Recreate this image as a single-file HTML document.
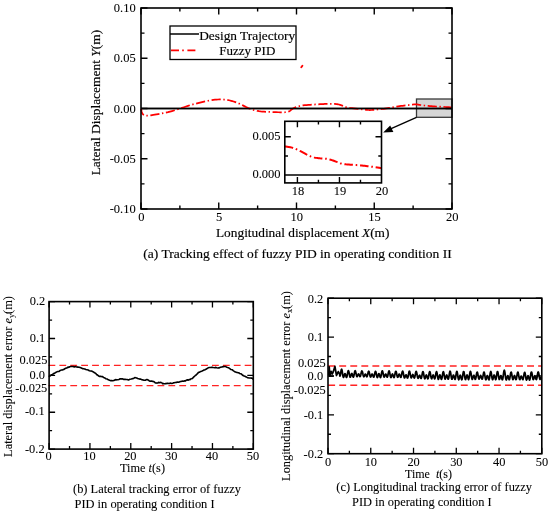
<!DOCTYPE html><html><head><meta charset="utf-8"><style>html,body{margin:0;padding:0;background:#fff;width:550px;height:512px;overflow:hidden}svg{display:block}</style></head><body><svg width="550" height="512" viewBox="0 0 550 512" font-family="'Liberation Serif','Times New Roman',serif" fill="#000"><style>text{stroke:#000;stroke-width:0.16px} text.t{stroke-width:0.06px} text.b{stroke-width:0.08px}</style>
<rect width="550" height="512" fill="#fff"/>
<rect x="416.5" y="99" width="35.5" height="18.3" fill="#d6d6d6" stroke="#3a3a3a" stroke-width="1.3"/>
<line x1="141" y1="108.5" x2="452" y2="108.5" stroke="#000" stroke-width="1.5"/>
<polyline points="141.2,108.8 141.3,109.44 141.42,110.36 141.59,111.4 141.81,112.4 142.1,113.2 142.47,113.78 142.9,114.25 143.39,114.63 143.93,114.94 144.5,115.2 145.12,115.4 145.8,115.52 146.51,115.58 147.25,115.6 148,115.6 148.7,115.57 149.37,115.5 150.09,115.4 150.94,115.27 152,115.1 153.31,114.91 154.82,114.68 156.46,114.42 158.21,114.13 160,113.8 161.87,113.43 163.86,113.02 165.9,112.58 167.97,112.11 170,111.6 172,111.06 174,110.48 176,109.87 178,109.24 180,108.6 182,107.93 184,107.23 186,106.52 188,105.84 190,105.2 192,104.62 194,104.08 196,103.57 198,103.08 200,102.6 202.03,102.11 204.1,101.63 206.14,101.17 208.13,100.75 210,100.4 211.74,100.12 213.39,99.9 214.97,99.73 216.5,99.6 218,99.5 219.5,99.44 220.97,99.43 222.39,99.45 223.74,99.51 225,99.6 226.11,99.71 227.1,99.86 228.02,100.04 228.97,100.25 230,100.5 231.14,100.79 232.33,101.11 233.55,101.47 234.78,101.87 236,102.3 237.18,102.77 238.35,103.28 239.53,103.83 240.74,104.4 242,105 243.34,105.65 244.73,106.36 246.15,107.09 247.58,107.78 249,108.4 250.38,108.95 251.75,109.46 253.13,109.93 254.54,110.34 256,110.7 257.5,110.99 259.03,111.22 260.61,111.41 262.26,111.56 264,111.7 265.87,111.82 267.86,111.91 269.9,111.98 271.97,112.04 274,112.1 276.08,112.17 278.24,112.25 280.36,112.31 282.32,112.33 284,112.3 285.35,112.21 286.46,112.08 287.38,111.91 288.21,111.68 289,111.4 289.71,111.04 290.3,110.61 290.82,110.14 291.37,109.65 292,109.2 292.69,108.77 293.38,108.33 294.14,107.91 294.99,107.49 296,107.1 297.18,106.72 298.49,106.34 299.91,105.99 301.42,105.67 303,105.4 304.69,105.19 306.5,105.04 308.38,104.92 310.23,104.81 312,104.7 313.66,104.59 315.27,104.48 316.85,104.38 318.42,104.29 320,104.2 321.62,104.11 323.25,104.01 324.87,103.92 326.46,103.85 328,103.8 329.5,103.78 330.97,103.77 332.39,103.78 333.74,103.82 335,103.9 336.11,104.01 337.1,104.14 338.02,104.3 338.97,104.52 340,104.8 341.14,105.19 342.33,105.68 343.55,106.2 344.78,106.69 346,107.1 347.14,107.4 348.22,107.63 349.33,107.82 350.56,108 352,108.2 353.76,108.43 355.77,108.66 357.88,108.89 359.94,109.11 361.8,109.3 363.42,109.48 364.9,109.66 366.3,109.82 367.68,109.94 369.1,110 370.56,110 372.02,109.94 373.49,109.84 374.95,109.72 376.4,109.6 377.84,109.47 379.28,109.32 380.72,109.16 382.16,108.99 383.6,108.8 385.05,108.6 386.51,108.39 387.98,108.17 389.44,107.94 390.9,107.7 392.36,107.45 393.82,107.18 395.28,106.91 396.74,106.64 398.2,106.4 399.66,106.18 401.12,105.97 402.59,105.77 404.05,105.58 405.5,105.4 407.01,105.22 408.57,105.04 410.11,104.87 411.51,104.72 412.7,104.6 413.57,104.49 414.18,104.39 414.69,104.31 415.24,104.28 416,104.3 416.99,104.41 418.1,104.58 419.3,104.8 420.55,105.01 421.8,105.2 423.05,105.35 424.33,105.5 425.65,105.64 427,105.77 428.4,105.9 429.86,106.03 431.37,106.16 432.91,106.28 434.46,106.39 436,106.5 437.52,106.59 439.04,106.67 440.55,106.74 442.07,106.82 443.6,106.9 445.26,107 447.04,107.12 448.77,107.23 450.25,107.33 451.3,107.4" fill="none" stroke="#f00" stroke-width="1.75" stroke-dasharray="9.2 2.6 1.4 2.6" stroke-dashoffset="2.2" stroke-linejoin="round"/>
<line x1="301.3" y1="67.2" x2="302.4" y2="65.7" stroke="#f00" stroke-width="1.9" stroke-linecap="round"/>
<line x1="141" y1="108.5" x2="452" y2="108.5" stroke="#000" stroke-width="1.5"/>
<line x1="416.5" y1="117.3" x2="390" y2="129.2" stroke="#000" stroke-width="1.3"/>
<polygon points="383.2,132.6 390.2,125.6 393.4,131.9" fill="#000"/>
<path d="M141,209v-6.5M141,8v6.5M179.88,209v-3.5M179.88,8v3.5M218.75,209v-6.5M218.75,8v6.5M257.62,209v-3.5M257.62,8v3.5M296.5,209v-6.5M296.5,8v6.5M335.38,209v-3.5M335.38,8v3.5M374.25,209v-6.5M374.25,8v6.5M413.12,209v-3.5M413.12,8v3.5M452,209v-6.5M452,8v6.5M141,8h6.5M452,8h-6.5M141,33.12h3.5M452,33.12h-3.5M141,58.25h6.5M452,58.25h-6.5M141,83.38h3.5M452,83.38h-3.5M141,108.5h6.5M452,108.5h-6.5M141,133.62h3.5M452,133.62h-3.5M141,158.75h6.5M452,158.75h-6.5M141,183.88h3.5M452,183.88h-3.5M141,209h6.5M452,209h-6.5" stroke="#000" stroke-width="1.4" fill="none"/>
<rect x="141" y="8" width="311" height="201" fill="none" stroke="#000" stroke-width="1.6"/>
<text x="135.7" y="12.1" font-size="12.5" text-anchor="end" class="t" >0.10</text>
<text x="135.7" y="62.35" font-size="12.5" text-anchor="end" class="t" >0.05</text>
<text x="135.7" y="112.6" font-size="12.5" text-anchor="end" class="t" >0.00</text>
<text x="135.7" y="162.85" font-size="12.5" text-anchor="end" class="t" >-0.05</text>
<text x="135.7" y="213.1" font-size="12.5" text-anchor="end" class="t" >-0.10</text>
<text x="141.3" y="221.2" font-size="12.5" text-anchor="middle" class="t" >0</text>
<text x="219.05" y="221.2" font-size="12.5" text-anchor="middle" class="t" >5</text>
<text x="296.8" y="221.2" font-size="12.5" text-anchor="middle" class="t" >10</text>
<text x="374.55" y="221.2" font-size="12.5" text-anchor="middle" class="t" >15</text>
<text x="452.3" y="221.2" font-size="12.5" text-anchor="middle" class="t" >20</text>
<text x="302.7" y="236.9" font-size="13.35" text-anchor="middle" >Longitudinal displacement <tspan font-style="italic">X</tspan>(m)</text>
<text transform="translate(100.1,102.6) rotate(-90)" font-size="13.45" text-anchor="middle">Lateral Displacement <tspan font-style="italic">Y</tspan>(m)</text>
<text x="297.5" y="257.5" font-size="13.5" text-anchor="middle" >(a) Tracking effect of fuzzy PID in operating condition II</text>
<rect x="170" y="26" width="126" height="33.5" fill="#fff" stroke="#000" stroke-width="1.3"/>
<line x1="170" y1="34" x2="199" y2="34" stroke="#000" stroke-width="1.5"/>
<line x1="171" y1="50.4" x2="196" y2="50.4" stroke="#f00" stroke-width="1.6" stroke-dasharray="8 3.2 1.6 3.6"/>
<text x="199.2" y="39.6" font-size="13.35" text-anchor="start" >Design Trajectory</text>
<text x="219.3" y="54.7" font-size="13.0" text-anchor="start" >Fuzzy PID</text>
<rect x="284.8" y="121.3" width="96.7" height="61.6" fill="#fff"/>
<line x1="284.8" y1="175.1" x2="381.5" y2="175.1" stroke="#000" stroke-width="1.5"/>
<polyline points="284.8,146.4 285.78,146.53 287.16,146.71 288.77,146.93 290.44,147.23 292,147.6 293.43,148.06 294.85,148.59 296.27,149.2 297.75,149.87 299.3,150.6 300.99,151.46 302.81,152.44 304.65,153.46 306.41,154.41 308,155.2 309.37,155.81 310.59,156.32 311.73,156.73 312.84,157.08 314,157.4 315.18,157.67 316.34,157.87 317.51,158.02 318.72,158.16 320,158.3 321.4,158.42 322.9,158.51 324.43,158.6 325.92,158.72 327.3,158.9 328.52,159.14 329.62,159.42 330.69,159.73 331.79,160.09 333,160.5 334.39,161 335.91,161.58 337.45,162.19 338.92,162.75 340.2,163.2 341.21,163.52 342.02,163.74 342.76,163.91 343.57,164.05 344.6,164.2 345.89,164.35 347.35,164.47 348.9,164.59 350.48,164.69 352,164.8 353.48,164.9 354.96,165 356.43,165.09 357.88,165.19 359.3,165.3 360.66,165.42 361.96,165.55 363.26,165.69 364.59,165.84 366,166 367.52,166.18 369.13,166.37 370.77,166.57 372.41,166.78 374,167 375.65,167.25 377.4,167.52 379.06,167.8 380.49,168.03 381.5,168.2" fill="none" stroke="#f00" stroke-width="2" stroke-dasharray="8.5 2.8 1.6 2.8" stroke-linejoin="round"/>
<path d="M297.41,182.9v-6M297.41,121.3v6M318.43,182.9v-3.2M318.43,121.3v3.2M339.46,182.9v-6M339.46,121.3v6M360.48,182.9v-3.2M360.48,121.3v3.2M284.8,155.95h3.2M381.5,155.95h-3.2M284.8,136.7h6M381.5,136.7h-6" stroke="#000" stroke-width="1.4" fill="none"/>
<rect x="284.8" y="121.3" width="96.7" height="61.6" fill="none" stroke="#000" stroke-width="1.6"/>
<text x="280.5" y="140.1" font-size="12.5" text-anchor="end" class="t" >0.005</text>
<text x="280.5" y="178.3" font-size="12.5" text-anchor="end" class="t" >0.000</text>
<text x="298.01" y="195" font-size="12.5" text-anchor="middle" class="t" >18</text>
<text x="340.06" y="195" font-size="12.5" text-anchor="middle" class="t" >19</text>
<text x="382.1" y="195" font-size="12.5" text-anchor="middle" class="t" >20</text>
<line x1="48.5" y1="365.4" x2="253.3" y2="365.4" stroke="#f22" stroke-width="1.4" stroke-dasharray="6.8 4.1"/>
<line x1="48.5" y1="385.6" x2="253.3" y2="385.6" stroke="#f22" stroke-width="1.4" stroke-dasharray="6.8 4.1"/>
<polyline points="49.4,376.28 49.39,376.17 49.37,376.55 49.46,376.1 49.8,376.23 50.47,375.68 51.39,374.87 52.44,374.53 53.5,373.58 54.57,373.27 55.7,372.42 56.86,371.85 58,371.55 59.12,371.35 60.25,370.42 61.38,370.07 62.5,369.89 63.64,369.58 64.8,368.75 65.93,368.08 67,368.03 67.96,367.05 68.84,367.38 69.73,366.79 70.7,366.55 71.83,366.44 73.06,366.53 74.26,366.89 75.3,366.48 76.07,366.82 76.66,366.96 77.24,366.92 78,367.23 79,367.16 80.14,367.49 81.33,367.95 82.5,368.63 83.62,368.77 84.74,369.01 85.87,369.53 87,369.77 88.17,370 89.37,370.69 90.53,370.97 91.6,371.02 92.54,371.61 93.38,371.92 94.19,372.56 95,372.96 95.81,373.35 96.59,374.67 97.41,374.88 98.3,375.74 99.33,376.38 100.45,376.19 101.57,376.63 102.6,376.58 103.46,377.37 104.21,377.82 104.99,378.1 105.9,378.76 107.04,378.92 108.32,379.82 109.61,380.32 110.8,380.66 111.86,380.6 112.87,380.69 113.79,380.51 114.6,379.98 115.21,380.01 115.66,379.5 116.13,379.86 116.8,379.7 117.77,379.76 118.93,379.41 120.13,378.83 121.2,378.82 122.05,379.11 122.79,378.87 123.55,379.41 124.5,379.37 125.71,379.42 127.1,379.44 128.54,379.92 129.9,379.34 131.19,379.06 132.45,378.64 133.66,378.46 134.8,377.61 135.81,377.83 136.73,378.03 137.63,378.5 138.6,378.72 139.66,379.1 140.76,379.14 141.89,379.66 143,379.9 144.14,380.32 145.31,380.28 146.43,379.62 147.4,379.67 148.15,379.96 148.75,380.33 149.32,380.89 150,381.26 150.85,381.17 151.79,381.05 152.73,381.39 153.6,381.51 154.36,381.97 155.06,382.67 155.73,382.89 156.4,383.01 157.1,383.08 157.81,382.97 158.49,382.33 159.1,382.78 159.6,382.61 160.03,382.59 160.44,382.51 160.9,382.32 161.42,382.63 161.96,382.88 162.55,383.7 163.2,383.59 163.95,383.66 164.77,383.69 165.61,383.54 166.4,383.59 167.09,383.39 167.72,383.38 168.37,383.49 169.1,383.42 169.93,383.5 170.84,383.11 171.77,383.53 172.7,383.18 173.62,382.71 174.55,382.65 175.48,382.56 176.4,382.4 177.31,382.02 178.21,382.28 179.1,382.14 180,381.58 180.9,381.49 181.79,381.18 182.69,381.15 183.6,381.19 184.54,380.88 185.51,380.94 186.44,380.13 187.3,379.77 188.05,380.27 188.71,379.91 189.35,379.55 190,379.63 190.67,378.92 191.34,378.83 192.02,378.65 192.7,378.05 193.4,377.41 194.1,376.54 194.8,376.02 195.5,375.27 196.2,375.01 196.91,374.1 197.59,373.57 198.2,372.68 198.67,372.2 199.04,372.33 199.44,372.21 200,371.85 200.75,371.52 201.62,371.25 202.6,370.87 203.7,370.11 204.95,369.75 206.34,368.95 207.79,368.06 209.2,367.57 210.58,367.47 211.97,367.32 213.32,367.57 214.6,367.72 215.74,367.39 216.79,367.83 217.85,367.95 219,367.92 220.35,367.32 221.82,366.93 223.26,366.65 224.5,366.49 225.43,366.49 226.17,366.86 226.87,367.25 227.7,367.54 228.72,367.82 229.82,368.66 230.97,369.52 232.1,369.71 233.2,370.71 234.31,371.46 235.41,371.9 236.5,372.38 237.55,372.59 238.58,372.71 239.64,373.5 240.8,373.68 242.09,374.74 243.48,375.74 244.9,376.22 246.3,376.93 247.75,377.82 249.24,378.04 250.62,377.94 251.7,378.14 252.4,378.32 252.84,378.92 253.1,378.89 253.3,378.45" fill="none" stroke="#000" stroke-width="1.6" stroke-linejoin="round"/>
<path d="M49.1,449.1v-6M49.1,301.6v6M69.52,449.1v-3M69.52,301.6v3M89.94,449.1v-6M89.94,301.6v6M110.36,449.1v-3M110.36,301.6v3M130.78,449.1v-6M130.78,301.6v6M151.2,449.1v-3M151.2,301.6v3M171.62,449.1v-6M171.62,301.6v6M192.04,449.1v-3M192.04,301.6v3M212.46,449.1v-6M212.46,301.6v6M232.88,449.1v-3M232.88,301.6v3M253.3,449.1v-6M253.3,301.6v6M49.1,301.6h6M253.3,301.6h-6M49.1,320.04h3M253.3,320.04h-3M49.1,338.48h6M253.3,338.48h-6M49.1,356.91h3M253.3,356.91h-3M49.1,375.35h6M253.3,375.35h-6M49.1,393.79h3M253.3,393.79h-3M49.1,412.23h6M253.3,412.23h-6M49.1,430.66h3M253.3,430.66h-3M49.1,449.1h6M253.3,449.1h-6" stroke="#000" stroke-width="1.3" fill="none"/>
<rect x="49.1" y="301.6" width="204.2" height="147.5" fill="none" stroke="#000" stroke-width="1.6"/>
<text x="45.2" y="304.6" font-size="12.4" text-anchor="end" class="t" >0.2</text>
<text x="45.3" y="341.8" font-size="12.4" text-anchor="end" class="t" >0.1</text>
<text x="47.4" y="363.5" font-size="12.4" text-anchor="end" class="t" >0.025</text>
<text x="45" y="378.6" font-size="12.4" text-anchor="end" class="t" >0.0</text>
<text x="47.3" y="391.7" font-size="12.4" text-anchor="end" class="t" >-0.025</text>
<text x="44.6" y="415.1" font-size="12.4" text-anchor="end" class="t" >-0.1</text>
<text x="44.6" y="452.9" font-size="12.4" text-anchor="end" class="t" >-0.2</text>
<text x="48.7" y="460.3" font-size="12.4" text-anchor="middle" class="t" >0</text>
<text x="89.54" y="460.3" font-size="12.4" text-anchor="middle" class="t" >10</text>
<text x="130.38" y="460.3" font-size="12.4" text-anchor="middle" class="t" >20</text>
<text x="171.22" y="460.3" font-size="12.4" text-anchor="middle" class="t" >30</text>
<text x="212.06" y="460.3" font-size="12.4" text-anchor="middle" class="t" >40</text>
<text x="252.9" y="460.3" font-size="12.4" text-anchor="middle" class="t" >50</text>
<text x="142.5" y="472.2" font-size="12.3" text-anchor="middle" class="b" >Time <tspan font-style="italic">t</tspan>(s)</text>
<text class="b" transform="translate(12.2,376.5) rotate(-90)" font-size="12.35" text-anchor="middle">Lateral displacement error <tspan font-style="italic">e</tspan><tspan font-size="8.3" dy="1.6">y</tspan><tspan dy="-1.6">(m)</tspan></text>
<text x="73" y="492.6" font-size="12.43" text-anchor="start" class="b" >(b) Lateral tracking error of fuzzy</text>
<text x="74.5" y="508" font-size="12.43" text-anchor="start" class="b" >PID in operating condition I</text>
<line x1="328.2" y1="366" x2="541.8" y2="366" stroke="#f22" stroke-width="1.4" stroke-dasharray="6.9 4.15"/>
<line x1="328.2" y1="385.2" x2="541.8" y2="385.2" stroke="#f22" stroke-width="1.4" stroke-dasharray="6.9 4.15"/>
<polyline points="328.8,375 329.2,366.9 329.9,376 331.1,371.4 332.2,374 333.1,372.2 334.9,366.4 336.5,375.5 338.3,371.6 339.6,374 339.9,376 340.2,375.88 340.5,374.42 340.8,372.54 341.1,370.7 341.4,369.45 341.7,369.25 342,370.2 342.3,371.97 342.6,374.02 342.9,375.83 343.2,376.99 343.5,377.34 343.8,376.91 344.1,375.94 344.4,374.82 344.7,373.95 345,373.64 345.3,374 345.6,374.9 345.9,376.04 346.2,377 346.5,377.43 346.8,377.1 347.1,376.02 347.4,374.43 347.7,372.72 348,371.34 348.3,370.66 348.6,370.87 348.9,371.89 349.2,373.45 349.5,375.12 349.8,376.48 350.1,377.18 350.4,377.1 350.7,376.36 351,375.25 351.3,374.18 351.6,373.5 351.9,373.46 352.2,374.06 352.5,375.1 352.8,376.21 353.1,376.98 353.4,377.1 353.7,376.46 354,375.18 354.3,373.57 354.6,372.05 354.9,371.02 355.2,370.74 355.5,371.26 355.8,372.41 356.1,373.87 356.4,375.27 356.7,376.26 357,376.66 357.3,376.45 357.6,375.8 357.9,374.97 358.2,374.27 358.5,373.95 358.8,374.12 359.1,374.72 359.4,375.53 359.7,376.26 360,376.62 360.3,376.39 360.6,375.57 360.9,374.3 361.2,372.88 361.5,371.67 361.8,370.99 362.1,371.02 362.4,371.76 362.7,373 363,374.44 363.3,375.71 363.6,376.52 363.9,376.72 364.2,376.34 364.5,375.59 364.8,374.78 365.1,374.2 365.4,374.07 365.7,374.43 366,375.16 366.3,375.99 366.6,376.62 366.9,376.77 367.2,376.32 367.5,375.31 367.8,373.96 368.1,372.61 368.4,371.61 368.7,371.23 369,371.59 369.3,372.59 369.6,373.98 369.9,375.39 370.2,376.48 370.5,377 370.8,376.88 371.1,376.23 371.4,375.33 371.7,374.51 372,374.06 372.3,374.14 372.6,374.71 372.9,375.59 373.2,376.48 373.5,377.06 373.8,377.08 374.1,376.44 374.4,375.25 374.7,373.78 375,372.41 375.3,371.51 375.6,371.35 375.9,371.99 376.2,373.28 376.5,374.88 376.8,376.37 377.1,377.34 377.4,377.57 377.7,377.05 378,376 378.3,374.82 378.6,373.91 378.9,373.58 379.2,373.96 379.5,374.9 379.8,376.09 380.1,377.1 380.4,377.58 380.7,377.27 381,376.21 381.3,374.64 381.6,372.94 381.9,371.57 382.2,370.89 382.5,371.05 382.8,372 383.1,373.45 383.4,375.02 383.7,376.3 384,377.01 384.3,377.02 384.6,376.45 384.9,375.54 385.2,374.65 385.5,374.09 385.8,374.06 386.1,374.57 386.4,375.45 386.7,376.38 387,377.02 387.3,377.09 387.6,376.46 387.9,375.23 388.2,373.68 388.5,372.19 388.8,371.17 389.1,370.9 389.4,371.47 389.7,372.74 390,374.38 390.3,375.97 390.6,377.12 390.9,377.57 391.2,377.28 391.5,376.42 391.8,375.34 392.1,374.44 392.4,374.02 392.7,374.24 393,375.02 393.3,376.1 393.6,377.09 393.9,377.62 394.2,377.44 394.5,376.54 394.8,375.09 395.1,373.45 395.4,372.05 395.7,371.27 396,371.29 396.3,372.11 396.6,373.48 396.9,375.04 397.2,376.38 397.5,377.17 397.8,377.28 398.1,376.75 398.4,375.83 398.7,374.86 399,374.18 399.3,374.03 399.6,374.46 399.9,375.33 400.2,376.35 400.5,377.14 400.8,377.41 401.1,376.97 401.4,375.87 401.7,374.35 402,372.79 402.3,371.6 402.6,371.11 402.9,371.48 403.2,372.6 403.5,374.21 403.8,375.89 404.1,377.23 404.4,377.93 404.7,377.88 405,377.23 405.3,376.26 405.6,375.36 405.9,374.86 406.2,374.94 406.5,375.59 406.8,376.57 407.1,377.52 407.4,378.07 407.7,377.94 408,377.07 408.3,375.6 408.6,373.87 408.9,372.32 409.2,371.35 409.5,371.22 409.8,371.95 410.1,373.35 410.4,375.04 410.7,376.59 411,377.62 411.3,377.93 411.6,377.53 411.9,376.63 412.2,375.58 412.5,374.78 412.8,374.49 413.1,374.83 413.4,375.68 413.7,376.74 414,377.64 414.3,378.02 414.6,377.67 414.9,376.61 415.2,375.06 415.5,373.4 415.8,372.06 416.1,371.41 416.4,371.63 416.7,372.67 417,374.25 417.3,375.98 417.6,377.42 417.9,378.25 418.2,378.34 418.5,377.77 418.8,376.83 419.1,375.88 419.4,375.28 419.7,375.25 420,375.8 420.3,376.74 420.6,377.74 420.9,378.42 421.2,378.47 421.5,377.77 421.8,376.41 422.1,374.7 422.4,373.06 422.7,371.92 423,371.59 423.3,372.18 423.6,373.54 423.9,375.31 424.2,377.03 424.5,378.29 424.8,378.79 425.1,378.48 425.4,377.57 425.7,376.42 426,375.44 426.3,374.99 426.6,375.23 426.9,376.07 427.2,377.22 427.5,378.28 427.8,378.84 428.1,378.63 428.4,377.62 428.7,375.99 429,374.15 429.3,372.56 429.6,371.66 429.9,371.67 430.2,372.59 430.5,374.18 430.8,376 431.1,377.59 431.4,378.57 431.7,378.73 432,378.13 432.3,377.07 432.6,375.93 432.9,375.13 433.2,374.95 433.5,375.45 433.8,376.47 434.1,377.65 434.4,378.57 434.7,378.87 435,378.36 435.3,377.08 435.6,375.31 435.9,373.5 436.2,372.15 436.5,371.62 436.8,372.08 437.1,373.42 437.4,375.3 437.7,377.22 438,378.68 438.3,379.34 438.6,379.08 438.9,378.09 439.2,376.74 439.5,375.53 439.8,374.86 440.1,374.97 440.4,375.83 440.7,377.14 441,378.46 441.3,379.31 441.6,379.34 441.9,378.46 442.2,376.82 442.5,374.84 442.8,373.03 443.1,371.87 443.4,371.67 443.7,372.46 444,374.03 444.3,375.93 444.6,377.67 444.9,378.82 445.2,379.12 445.5,378.6 445.8,377.52 446.1,376.29 446.4,375.34 446.7,375 447,375.4 447.3,376.39 447.6,377.64 447.9,378.7 448.2,379.16 448.5,378.77 448.8,377.52 449.1,375.68 449.4,373.69 449.7,372.07 450,371.25 450.3,371.47 450.6,372.68 450.9,374.55 451.2,376.59 451.5,378.28 451.8,379.21 452.1,379.21 452.4,378.4 452.7,377.12 453,375.86 453.3,375.07 453.6,375.02 453.9,375.74 454.2,376.98 454.5,378.31 454.8,379.24 455.1,379.4 455.4,378.62 455.7,377.02 456,374.99 456.3,373.05 456.6,371.72 456.9,371.37 457.2,372.09 457.5,373.71 457.8,375.78 458.1,377.77 458.4,379.19 458.7,379.72 459,379.33 459.3,378.24 459.6,376.89 459.9,375.76 460.2,375.24 460.5,375.51 460.8,376.47 461.1,377.81 461.4,379.05 461.7,379.72 462,379.52 462.3,378.38 462.6,376.54 462.9,374.43 463.2,372.61 463.5,371.55 463.8,371.55 464.1,372.6 464.4,374.41 464.7,376.5 465,378.32 465.3,379.41 465.6,379.55 465.9,378.8 466.2,377.5 466.5,376.13 466.8,375.17 467.1,374.95 467.4,375.55 467.7,376.75 468,378.14 468.3,379.22 468.6,379.56 468.9,378.95 469.2,377.46 469.5,375.45 469.8,373.42 470.1,371.92 470.4,371.34 470.7,371.83 471,373.25 471.3,375.21 471.6,377.2 471.9,378.71 472.2,379.42 472.5,379.23 472.8,378.32 473.1,377.08 473.4,375.95 473.7,375.32 474,375.43 474.3,376.22 474.6,377.42 474.9,378.6 475.2,379.32 475.5,379.25 475.8,378.33 476.1,376.74 476.4,374.87 476.7,373.21 477,372.21 477.3,372.11 477.6,372.94 477.9,374.45 478.2,376.24 478.5,377.84 478.8,378.87 479.1,379.14 479.4,378.66 479.7,377.7 480,376.6 480.3,375.76 480.6,375.46 480.9,375.81 481.2,376.68 481.5,377.79 481.8,378.75 482.1,379.2 482.4,378.9 482.7,377.83 483,376.2 483.3,374.4 483.6,372.9 483.9,372.12 484.2,372.29 484.5,373.4 484.8,375.15 485.1,377.1 485.4,378.74 485.7,379.65 486,379.67 486.3,378.88 486.6,377.62 486.9,376.38 487.2,375.59 487.5,375.53 487.8,376.23 488.1,377.45 488.4,378.75 488.7,379.65 489,379.79 489.3,378.99 489.6,377.37 489.9,375.31 490.2,373.33 490.5,371.94 490.8,371.52 491.1,372.19 491.4,373.76 491.7,375.8 492,377.78 492.3,379.18 492.6,379.69 492.9,379.27 493.2,378.14 493.5,376.74 493.8,375.57 494.1,375.03 494.4,375.3 494.7,376.29 495,377.66 495.3,378.92 495.6,379.61 495.9,379.42 496.2,378.29 496.5,376.46 496.8,374.38 497.1,372.61 497.4,371.61 497.7,371.65 498,372.73 498.3,374.55 498.6,376.61 498.9,378.36 499.2,379.39 499.5,379.48 499.8,378.7 500.1,377.45 500.4,376.3 500.7,375.59 501,375.6 501.3,376.34 501.6,377.58 501.9,378.87 502.2,379.73 502.5,379.75 502.8,378.78 503.1,376.95 503.4,374.63 503.7,372.4 504,370.79 504.3,370.23 504.6,370.84 504.9,372.48 505.2,374.72 505.5,377.01 505.8,378.83 506.1,379.81 506.4,379.82 506.7,379.02 507,377.79 507.3,376.57 507.6,375.78 507.9,375.68 508.2,376.4 508.5,377.62 508.8,378.84 509.1,379.62 509.4,379.64 509.7,378.79 510,377.21 510.3,375.28 510.6,373.5 510.9,372.34 511.2,372.1 511.5,372.86 511.8,374.4 512.1,376.31 512.4,378.09 512.7,379.28 513,379.64 513.3,379.16 513.6,378.09 513.9,376.85 514.2,375.89 514.5,375.55 514.8,375.95 515.1,376.94 515.4,378.18 515.7,379.21 516,379.63 516.3,379.19 516.6,377.93 516.9,376.14 517.2,374.27 517.5,372.81 517.8,372.14 518.1,372.44 518.4,373.61 518.7,375.34 519,377.18 519.3,378.67 519.6,379.48 519.9,379.51 520.2,378.87 520.5,377.86 520.8,376.86 521.1,376.23 521.4,376.19 521.7,376.75 522,377.73 522.3,378.77 522.6,379.5 522.9,379.6 523.2,378.91 523.5,377.52 523.8,375.73 524.1,373.98 524.4,372.73 524.7,372.32 525,372.9 525.3,374.31 525.6,376.21 525.9,378.08 526.2,379.46 526.5,380.01 526.8,379.68 527.1,378.66 527.4,377.37 527.7,376.27 528,375.76 528.3,376.02 528.6,376.96 528.9,378.24 529.2,379.4 529.5,380 529.8,379.74 530.1,378.59 530.4,376.77 530.7,374.73 531,372.99 531.3,372.01 531.6,372.03 531.9,373.03 532.2,374.74 532.5,376.69 532.8,378.39 533.1,379.43 533.4,379.62 533.7,379.03 534,377.95 534.3,376.79 534.6,375.98 534.9,375.79 535.2,376.3 535.5,377.31 535.8,378.47 536.1,379.34 536.4,379.55 536.7,378.93 537,377.54 537.3,375.7 537.6,373.87 537.9,372.52 538.2,372 538.5,372.45 538.8,373.72 539.1,375.49 539.4,377.3 539.7,378.69 540,379.38 540.3,379.29 540.6,378.55 540.9,377.51 541.2,376.55" fill="none" stroke="#000" stroke-width="1.75" stroke-linejoin="round"/>
<path d="M328,453.7v-6M328,298.2v6M349.38,453.7v-3M349.38,298.2v3M370.76,453.7v-6M370.76,298.2v6M392.14,453.7v-3M392.14,298.2v3M413.52,453.7v-6M413.52,298.2v6M434.9,453.7v-3M434.9,298.2v3M456.28,453.7v-6M456.28,298.2v6M477.66,453.7v-3M477.66,298.2v3M499.04,453.7v-6M499.04,298.2v6M520.42,453.7v-3M520.42,298.2v3M541.8,453.7v-6M541.8,298.2v6M328,298.2h6M541.8,298.2h-6M328,317.64h3M541.8,317.64h-3M328,337.07h6M541.8,337.07h-6M328,356.51h3M541.8,356.51h-3M328,375.95h6M541.8,375.95h-6M328,395.39h3M541.8,395.39h-3M328,414.82h6M541.8,414.82h-6M328,434.26h3M541.8,434.26h-3M328,453.7h6M541.8,453.7h-6" stroke="#000" stroke-width="1.3" fill="none"/>
<rect x="328" y="298.2" width="213.8" height="155.5" fill="none" stroke="#000" stroke-width="1.6"/>
<line x1="328.5" y1="376.2" x2="333.8" y2="376.2" stroke="#000" stroke-width="1.5"/>
<text x="323.2" y="303" font-size="12.4" text-anchor="end" class="t" >0.2</text>
<text x="323.3" y="341.4" font-size="12.4" text-anchor="end" class="t" >0.1</text>
<text x="325.8" y="367" font-size="12.4" text-anchor="end" class="t" >0.025</text>
<text x="323.1" y="380.1" font-size="12.4" text-anchor="end" class="t" >0.0</text>
<text x="325.8" y="394.4" font-size="12.4" text-anchor="end" class="t" >-0.025</text>
<text x="323.3" y="419.3" font-size="12.4" text-anchor="end" class="t" >-0.1</text>
<text x="323.2" y="458" font-size="12.4" text-anchor="end" class="t" >-0.2</text>
<text x="328.1" y="465.9" font-size="12.4" text-anchor="middle" class="t" >0</text>
<text x="370.86" y="465.9" font-size="12.4" text-anchor="middle" class="t" >10</text>
<text x="413.62" y="465.9" font-size="12.4" text-anchor="middle" class="t" >20</text>
<text x="456.38" y="465.9" font-size="12.4" text-anchor="middle" class="t" >30</text>
<text x="499.14" y="465.9" font-size="12.4" text-anchor="middle" class="t" >40</text>
<text x="541.9" y="465.9" font-size="12.4" text-anchor="middle" class="t" >50</text>
<text x="428.5" y="478" font-size="12" text-anchor="middle" class="b" style="white-space:pre" xml:space="preserve">Time  <tspan font-style="italic">t</tspan>(s)</text>
<text class="b" transform="translate(290.2,386) rotate(-90)" font-size="12.36" text-anchor="middle">Longitudinal displacement error <tspan font-style="italic">e</tspan><tspan font-size="8.3" dy="1.9">x</tspan><tspan dy="-1.9">(m)</tspan></text>
<text x="336.3" y="490.5" font-size="12.4" text-anchor="start" class="b" >(c) Longitudinal tracking error of fuzzy</text>
<text x="352" y="505.5" font-size="12.4" text-anchor="start" class="b" >PID in operating condition I</text>
</svg></body></html>
